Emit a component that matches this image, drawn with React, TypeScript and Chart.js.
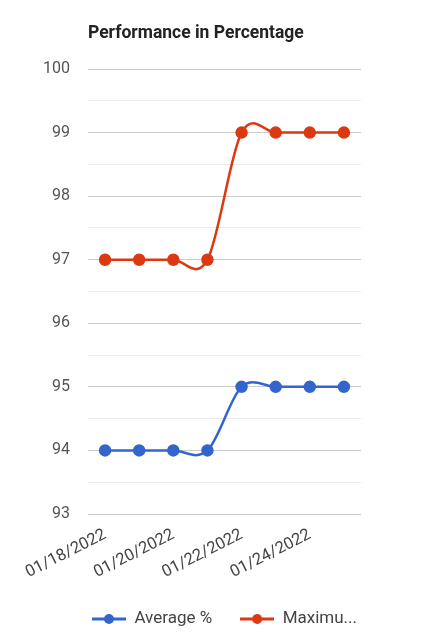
import React, { useEffect, useRef } from "react";
import { Chart, registerables } from "chart.js";

Chart.register(...registerables);

const categories = [
  "01/18/2022",
  "01/19/2022",
  "01/20/2022",
  "01/21/2022",
  "01/22/2022",
  "01/23/2022",
  "01/24/2022",
  "01/25/2022",
];
const averageValues = [94, 94, 94, 94, 95, 95, 95, 95];
const maximumValues = [97, 97, 97, 97, 99, 99, 99, 99];
const seriesNames = ["Average %", "Maximum %"];
const legendTexts = ["Average %", "Maximu..."];
const chartTitle = "Performance in Percentage";

const BLUE = "#3366cc";
const RED = "#dc3912";

function makeSymbol(color: string) {
  const c = document.createElement("canvas");
  c.width = 34;
  c.height = 12;
  const ctx = c.getContext("2d")!;
  ctx.strokeStyle = color;
  ctx.lineWidth = 3;
  ctx.beginPath();
  ctx.moveTo(0, 6);
  ctx.lineTo(34, 6);
  ctx.stroke();
  ctx.fillStyle = color;
  ctx.beginPath();
  ctx.arc(17, 6, 5, 0, Math.PI * 2);
  ctx.fill();
  return c;
}

const titlePlugin = {
  id: "leftTitle",
  afterLayout(chart: any) {
    if (chart.legend) {
      chart.legend.left = 2.5;
      chart.legend.right = 446.5;
    }
  },
  afterDraw(chart: any) {
    const ctx = chart.ctx;
    ctx.save();
    ctx.font = "bold 17.5px Roboto";
    ctx.fillStyle = "#222222";
    ctx.textAlign = "left";
    ctx.textBaseline = "alphabetic";
    ctx.fillText(chartTitle, chart.chartArea.left, 37.5);
    ctx.restore();
  },
};

// Uniform Catmull-Rom control points (function-curve look)
const curvePlugin = {
  id: "catmullRom",
  beforeDatasetDraw(chart: any, args: any) {
    const meta = chart.getDatasetMeta(args.index);
    const line = meta.dataset;
    const pts = meta.data;
    if (!line || !pts || !pts.length) return;
    for (let i = 0; i < pts.length; i++) {
      const p = pts[i];
      const prev = pts[i - 1] || p;
      const next = pts[i + 1] || p;
      const dx = (next.x - prev.x) / 6;
      const dy = (next.y - prev.y) / 6;
      p.cp1x = p.x - dx;
      p.cp1y = p.y - dy;
      p.cp2x = p.x + dx;
      p.cp2y = p.y + dy;
    }
    line._pointsUpdated = true;
    line._path = undefined;
  },
};

export default function App() {
  const ref = useRef<HTMLCanvasElement>(null);
  useEffect(() => {
    if (!ref.current) return;
    const symbols = [makeSymbol(BLUE), makeSymbol(RED)];
    const chart = new Chart(ref.current, {
      type: "line",
      data: {
        labels: categories,
        datasets: [
          {
            label: seriesNames[0],
            data: averageValues,
            borderColor: BLUE,
            backgroundColor: BLUE,
            borderWidth: 2.5,
            pointRadius: 5,
            pointHoverRadius: 5,
            tension: 0.4,
          },
          {
            label: seriesNames[1],
            data: maximumValues,
            borderColor: RED,
            backgroundColor: RED,
            borderWidth: 2.5,
            pointRadius: 5,
            pointHoverRadius: 5,
            tension: 0.4,
          },
        ],
      },
      options: {
        animation: false,
        responsive: false,
        maintainAspectRatio: false,
        layout: { padding: { top: 69, right: 83, bottom: 5.5, left: 0 } },
        plugins: {
          title: { display: false },
          tooltip: { enabled: false },
          legend: {
            position: "bottom",
            align: "center",
            labels: {
              usePointStyle: true,
              pointStyleWidth: 34,
              padding: 28,
              color: "#444444",
              font: { family: "Roboto", size: 17 },
              generateLabels: (ch: any) =>
                ch.data.datasets.map((ds: any, i: number) => ({
                  text: legendTexts[i],
                  fillStyle: ds.borderColor,
                  strokeStyle: ds.borderColor,
                  fontColor: "#444444",
                  lineWidth: 0,
                  pointStyle: symbols[i],
                  hidden: false,
                  datasetIndex: i,
                })),
            },
          },
        },
        scales: {
          x: {
            offset: true,
            grid: { display: false, drawTicks: false },
            border: { display: false },
            afterFit: (s: any) => {
              s.height = 68.5;
              s._computeLabelArea = () => undefined;
            },
            ticks: {
              autoSkip: false,
              minRotation: 27,
              maxRotation: 27,
              padding: 11,
              color: "#444444",
              font: { family: "Roboto", size: 16.5 },
              callback: (_v: any, i: number) => (i % 2 === 0 ? categories[i] : ""),
            },
          },
          y: {
            min: 93,
            max: 100,
            border: { display: false },
            afterFit: (s: any) => {
              s.width = 88;
            },
            grid: {
              drawTicks: false,
              color: (c: any) =>
                Number.isInteger(c.tick?.value) ? "#cccccc" : "#ebebeb",
            },
            ticks: {
              stepSize: 0.5,
              padding: 18,
              color: "#555555",
              font: { family: "Roboto", size: 16 },
              callback: (v: any) => (Number.isInteger(v) ? String(v) : ""),
            },
          },
        },
      },
      plugins: [titlePlugin, curvePlugin],
    });
    return () => chart.destroy();
  }, []);
  return (
    <div style={{ position: "fixed", left: 0, top: 0, width: 444, height: 643, background: "#fff" }}>
      <canvas ref={ref} width={444} height={643} style={{ width: 444, height: 643, display: "block" }} />
    </div>
  );
}
